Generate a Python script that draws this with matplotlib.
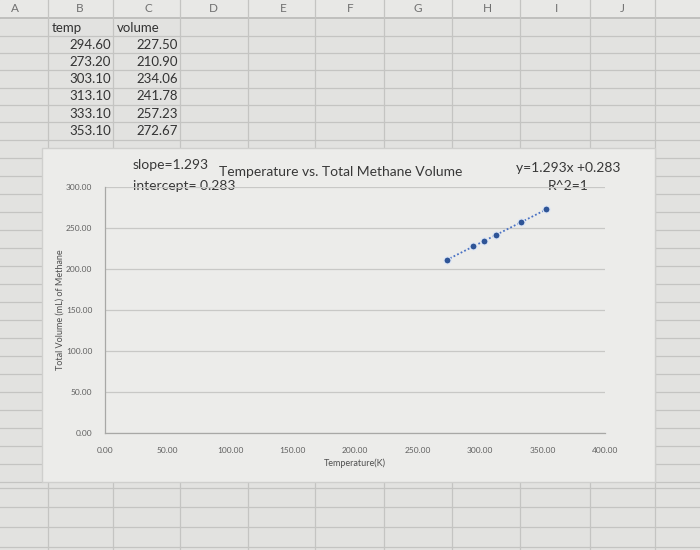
import matplotlib
matplotlib.use("Agg")
import matplotlib.pyplot as plt
from matplotlib.patches import Rectangle
import numpy as np

# ---- data ----
temp = [294.60, 273.20, 303.10, 313.10, 333.10, 353.10]
volume = [227.50, 210.90, 234.06, 241.78, 257.23, 272.67]
col_letters = ["A", "B", "C", "D", "E", "F", "G", "H", "I", "J"]
table_headers = ["temp", "volume"]
x_ticks = [0, 50, 100, 150, 200, 250, 300, 350, 400]
y_ticks = [0, 50, 100, 150, 200, 250, 300]
chart_title = "Temperature vs. Total Methane Volume"
x_label = "Temperature(K)"
y_label = "Total Volume (mL) of Methane"
slope_text = "slope=1.293"
intercept_text = "intercept= 0.283"
eq_text = "y=1.293x +0.283"
r2_text = "R^2=1"

FONT = ["Lato", "DejaVu Sans"]
plt.rcParams["font.family"] = FONT

W, H = 700, 550
fig = plt.figure(figsize=(7, 5.5), dpi=100)
fig.patch.set_facecolor("#e2e2e0")

# background spreadsheet layer in pixel coordinates
bg = fig.add_axes([0, 0, 1, 1])
bg.set_xlim(0, W)
bg.set_ylim(H, 0)
bg.axis("off")

grid_c = "#c4c4c2"
col_bounds = [48, 113, 180, 248, 315, 384, 452, 520, 590, 655]
col_centers = [15, 80, 148, 213, 283, 350, 418, 487, 556, 622]
# header row
bg.add_patch(Rectangle((0, 0), W, 18, color="#e8e8e6", zorder=0))
bg.plot([0, W], [18, 18], color="#b8b8b6", lw=1.2, zorder=1)
for cx, letter in zip(col_centers, col_letters):
    bg.text(cx, 9, letter, ha="center", va="center", fontsize=8.5, color="#707070", zorder=2)
for xb in col_bounds:
    bg.plot([xb, xb], [0, H], color=grid_c, lw=0.9, zorder=1)
row_lines = [36, 53, 70, 88, 105, 122, 140, 488, 507, 527, 547]
for yr in row_lines:
    bg.plot([0, W], [yr, yr], color=grid_c, lw=0.9, zorder=1)
for yr in range(158, 488, 18):
    bg.plot([0, 42], [yr, yr], color=grid_c, lw=0.9, zorder=1)
    bg.plot([655, W], [yr, yr], color=grid_c, lw=0.9, zorder=1)

# table text
bg.text(52, 28, table_headers[0], ha="left", va="center", fontsize=9.5, color="#333333", zorder=2)
bg.text(117, 28, table_headers[1], ha="left", va="center", fontsize=9.5, color="#333333", zorder=2)
row_y = [45, 62, 79, 96, 114, 131]
for ry, t, v in zip(row_y, temp, volume):
    bg.text(111, ry, f"{t:.2f}", ha="right", va="center", fontsize=9.5, color="#333333", zorder=2)
    bg.text(178, ry, f"{v:.2f}", ha="right", va="center", fontsize=9.5, color="#333333", zorder=2)

# chart area
bg.add_patch(Rectangle((42, 148), 613, 334, facecolor="#ececea", edgecolor="#cfcfcd", lw=1, zorder=3))

# chart texts
tc = "#383838"
bg.text(341, 172, chart_title, ha="center", va="center", fontsize=10, color=tc, zorder=5)
bg.text(133, 165, slope_text, ha="left", va="center", fontsize=10, color=tc, zorder=5)
bg.text(133, 186, intercept_text, ha="left", va="center", fontsize=10, color=tc, zorder=5)
bg.text(568, 168, eq_text, ha="center", va="center", fontsize=10, color=tc, zorder=5)
bg.text(568, 186, r2_text, ha="center", va="center", fontsize=10, color=tc, zorder=5)

# plot axes
left, right = 105 / W, 605 / W
bottom, top = 1 - 433 / H, 1 - 187 / H
ax = fig.add_axes([left, bottom, right - left, top - bottom])
ax.set_facecolor("none")
ax.set_xlim(0, 400)
ax.set_ylim(0, 300)
ax.set_xticks(x_ticks)
ax.set_yticks(y_ticks)
ax.set_xticklabels([f"{v:.2f}" for v in x_ticks])
ax.set_yticklabels([f"{v:.2f}" for v in y_ticks])
ax.tick_params(axis="both", labelsize=6, colors="#606060", length=0)
ax.tick_params(axis="y", pad=9)
ax.tick_params(axis="x", pad=10)
ax.grid(axis="y", color="#c8c8c6", lw=0.9)
ax.set_axisbelow(True)
for s in ["top", "right"]:
    ax.spines[s].set_visible(False)
for s in ["left", "bottom"]:
    ax.spines[s].set_color("#a8a8a6")
    ax.spines[s].set_linewidth(0.9)
ax.set_xlabel(x_label, fontsize=6.5, color="#505050", labelpad=3)
ax.set_ylabel(y_label, fontsize=6.5, color="#505050", labelpad=1)

# trendline
tx = np.array(temp)
vy = np.array(volume)
coef = np.polyfit(tx, vy, 1)
xs = np.array([min(temp), max(temp)])
ax.plot(xs, np.polyval(coef, xs), linestyle=(0, (1, 1.2)), color="#4a72c4", lw=1.3, zorder=3)
ax.scatter(temp, volume, s=26, color="#2f5597", edgecolors="#dde6f5", linewidths=0.9, zorder=4)

fig.savefig("out.png", dpi=100, facecolor=fig.get_facecolor())
